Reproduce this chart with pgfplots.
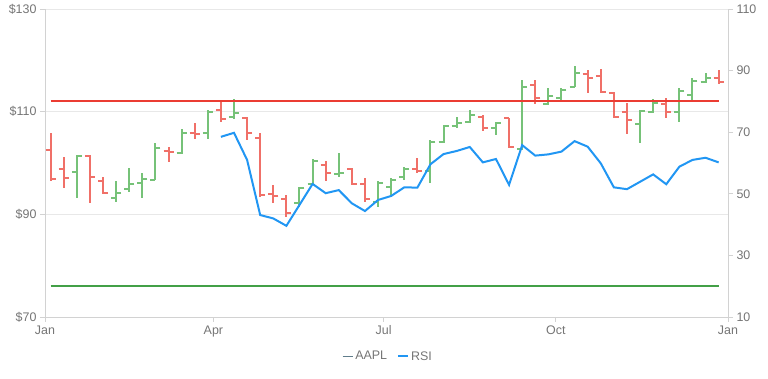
\documentclass[border=0pt]{standalone}
\usepackage{pgfplots}
\pgfplotsset{compat=1.18}
\usepackage{pgfplotstable}
\usepackage{fontspec}
\setmainfont{Liberation Sans}
\definecolor{upc}{RGB}{118,194,120}
\definecolor{dnc}{RGB}{240,112,104}
\definecolor{rsic}{RGB}{33,150,243}
\definecolor{hlred}{RGB}{235,60,50}
\definecolor{hlgreen}{RGB}{67,160,71}
\definecolor{txt}{RGB}{117,117,117}
\definecolor{gridc}{RGB}{232,232,232}
\definecolor{axc}{RGB}{210,210,210}
\definecolor{aaplc}{RGB}{96,125,139}

\pgfdeclareplotmark{otick}{\pgfpathmoveto{\pgfqpoint{-\pgfplotmarksize}{0pt}}\pgfpathlineto{\pgfqpoint{0pt}{0pt}}\pgfusepathqstroke}
\pgfdeclareplotmark{ctick}{\pgfpathmoveto{\pgfqpoint{\pgfplotmarksize}{0pt}}\pgfpathlineto{\pgfqpoint{0pt}{0pt}}\pgfusepathqstroke}

\pgfplotstableread{
x o h l c
17 98.3 101.6 93.2 101.4
38 93.1 96.4 92.5 94.1
45 94.9 99.0 94.4 96.0
52 96.2 98.1 93.1 96.8
59 96.7 103.8 96.7 103.0
73 102.0 106.6 101.75 105.8
87 105.9 110.3 104.7 110.0
101 108.9 112.4 108.5 109.8
136 92.3 95.4 91.5 95.1
143 96.0 100.7 96.0 100.45
157 97.9 101.9 97.3 98.1
178 92.5 96.5 91.5 96.2
185 95.4 97.0 93.8 96.7
192 97.3 99.3 96.7 98.8
206 98.4 104.5 96.2 104.1
213 104.1 107.5 103.8 107.3
220 107.3 109.0 106.9 107.7
227 108.05 110.3 107.85 109.35
241 106.9 108.05 105.45 107.85
255 102.7 116.2 102.5 114.9
269 111.5 114.55 111.4 113.05
276 112.6 114.55 112.3 114.2
283 114.9 118.8 114.9 117.5
318 107.6 110.3 103.8 110.1
325 110.0 112.5 109.9 111.6
339 109.9 114.7 108.05 114.0
346 113.25 116.6 112.3 116.0
353 115.7 117.5 115.5 116.6
}\up

\pgfplotstableread{
x o h l c
3 102.5 105.9 96.4 96.8
10 98.9 101.2 95.1 97.1
24 101.4 101.6 92.3 97.3
31 96.5 97.2 94.0 94.1
66 102.4 103.2 100.1 102.2
80 105.9 107.7 104.6 105.6
94 110.3 112.3 107.9 108.5
108 108.8 108.9 104.5 105.8
115 104.9 105.8 93.3 93.8
122 94.0 95.7 92.15 93.6
129 92.9 93.8 89.5 90.3
150 99.6 100.3 96.4 98.0
164 98.8 99.0 95.7 95.85
171 96.0 97.0 92.5 92.9
199 98.8 101.0 98.0 98.5
234 109.0 109.35 106.2 106.9
248 108.7 108.8 103.0 103.2
262 115.2 116.2 111.4 112.7
290 117.3 118.1 113.6 116.5
297 117.0 118.3 113.6 113.8
304 113.6 113.8 108.8 109.0
311 110.0 111.75 105.6 108.4
332 111.4 112.6 108.7 109.9
360 116.5 118.1 115.3 115.7
}\down

\pgfplotstableread{
x r
94 68.5
101 69.8
108 61.0
115 43.1
122 42.0
129 39.6
136 46.4
143 53.2
150 50.2
157 51.2
164 46.9
171 44.4
178 48.0
185 49.3
192 52.1
199 52.0
206 59.6
213 62.9
220 63.9
227 65.2
234 60.2
241 61.3
248 52.9
255 65.8
262 62.4
269 62.8
276 63.7
283 67.1
290 65.3
297 59.9
304 52.1
311 51.5
318 53.9
325 56.3
332 53.1
339 58.8
346 61.0
353 61.7
360 60.2
}\rsi

\pgfplotsset{
  base/.style={
    at={(45bp,62bp)}, anchor=south west,
    scale only axis, width=683bp, height=308bp,
    xmin=0, xmax=365,
    axis line style={draw=axc, line width=0.8bp, -},
    tick align=outside, major tick length=5bp,
    tick style={draw=axc, line width=0.8bp},
    tick label style={font=\fontsize{12.5}{14}\selectfont, text=txt},
  },
  ohlc/.style={only marks, mark=otick, mark size=5bp,
    mark options={draw=#1, line width=2bp},
    error bars/.cd, y dir=both, y explicit, error mark=none,
    error bar style={draw=#1, line width=2bp}},
  cl/.style={only marks, mark=ctick, mark size=5bp,
    mark options={draw=#1, line width=2bp}},
}

\begin{document}
\begin{tikzpicture}
\path[use as bounding box] (0,0) rectangle (768bp,379bp);
\begin{axis}[base,
  ymin=70, ymax=130,
  axis x line*=bottom, axis y line*=left,
  xtick={0,90,181,273,365}, xticklabels={Jan,Apr,Jul,Oct,Jan},
  ytick={70,90,110,130}, yticklabels={\$70,\$90,\$110,\$130},
  ymajorgrids, grid style={draw=gridc, line width=0.8bp},
]
\addplot[ohlc=upc] table[x=x, y=o, y error plus expr=\thisrow{h}-\thisrow{o}, y error minus expr=\thisrow{o}-\thisrow{l}] {\up};
\addplot[cl=upc] table[x=x, y=c] {\up};
\addplot[ohlc=dnc] table[x=x, y=o, y error plus expr=\thisrow{h}-\thisrow{o}, y error minus expr=\thisrow{o}-\thisrow{l}] {\down};
\addplot[cl=dnc] table[x=x, y=c] {\down};
\end{axis}
\begin{axis}[base,
  ymin=10, ymax=110,
  axis x line=none, axis y line*=right,
  ytick={10,30,50,70,90,110}, yticklabels={10,30,50,70,90,110},
  legend style={at={(0.502,-0.128)}, anchor=center, draw=none, fill=none,
    legend columns=2, font=\fontsize{12.5}{14}\selectfont, text=txt,
    /tikz/every even column/.append style={column sep=8bp}},
  legend image code/.code={\draw[#1] (0bp,0bp) -- (10bp,0bp);},
]
\addplot[draw=hlred, line width=2bp, forget plot] coordinates {(3,80) (360,80)};
\addplot[draw=hlgreen, line width=2bp, forget plot] coordinates {(3,20) (360,20)};
\addlegendimage{draw=aaplc, line width=1.5bp}
\addlegendentry{AAPL}
\addplot[draw=rsic, line width=2bp] table[x=x, y=r] {\rsi};
\addlegendentry{RSI}
\end{axis}
\end{tikzpicture}
\end{document}
